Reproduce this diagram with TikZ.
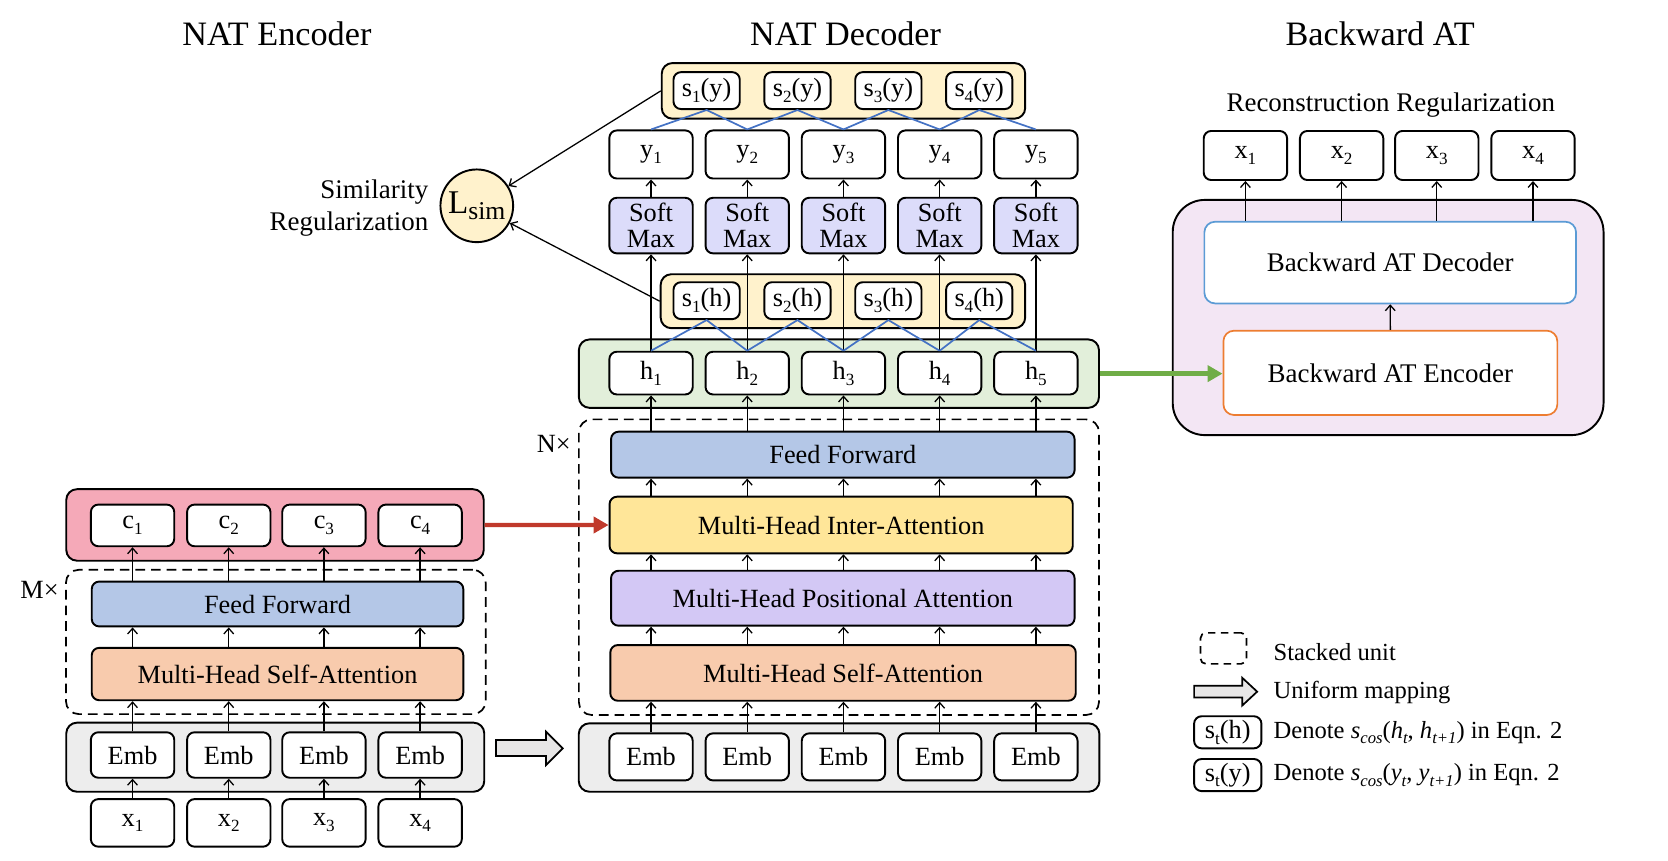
\documentclass[tikz,border=0pt]{standalone}
\usepackage{fontspec}
\setmainfont{Liberation Serif}
\usetikzlibrary{arrows.meta}
\definecolor{cRed}{HTML}{F5A9B8}
\definecolor{cGrey}{HTML}{EDEDED}
\definecolor{cFF}{HTML}{B4C7E7}
\definecolor{cSA}{HTML}{F8CBAD}
\definecolor{cIA}{HTML}{FFE699}
\definecolor{cPA}{HTML}{D3C8F5}
\definecolor{cGreen}{HTML}{E2EFDA}
\definecolor{cYel}{HTML}{FFF2CC}
\definecolor{cSM}{HTML}{DCDCFA}
\definecolor{cPurple}{HTML}{F3E6F4}
\definecolor{cBlueB}{HTML}{5B9BD5}
\definecolor{cOrangeB}{HTML}{ED7D31}
\definecolor{cRedA}{HTML}{C0392B}
\definecolor{cGreenA}{HTML}{70AD47}
\definecolor{cLine}{HTML}{4472C4}
\definecolor{cArrFill}{HTML}{E7E6E6}
\newcommand\sbs[1]{\raisebox{-0.22em}{\fontsize{8}{8}\selectfont #1}}
\newcommand\sbi[1]{\raisebox{-0.22em}{\fontsize{7.8}{7.8}\selectfont\itshape #1}}
\newcommand\mybox[7]{\node[#1, inner sep=0pt,
   minimum width={((#5)-(#3))*0.5pt}, minimum height={((#6)-(#4))*0.5pt}]
   (#2) at ({((#3)+(#5))/2},{((#4)+(#6))/2}) {#7};}
\newcommand\fnorm{\fontsize{12.3}{12}\selectfont}
\tikzset{
  bx/.style={draw, line width=0.9pt, rounded corners=3.5pt, fill=white, font=\fnorm},
  cont/.style={draw, line width=0.9pt, rounded corners=5pt},
  stk/.style={draw, dash pattern=on 4.5pt off 2.8pt, line width=0.8pt, rounded corners=6pt},
  arr/.style={line width=0.6pt, -{Straight Barb[length=2.6pt,width=4.6pt]}},
  simline/.style={draw=cLine, line width=0.8pt},
  bigarr/.style={line width=2pt, -{Triangle[length=7pt,width=7.5pt]}},
  ttl/.style={font=\fontsize{16}{16}\selectfont},
  lbl/.style={font=\fontsize{12.6}{15}\selectfont},
  leg/.style={font=\fontsize{11.5}{12}\selectfont, anchor=west, inner sep=0pt},
  hollow/.style={draw, line width=0.8pt, fill=cArrFill, line join=miter},
}
\begin{document}
\begin{tikzpicture}[x=0.5pt,y=-0.5pt]
\useasboundingbox (0,0) rectangle (1560.3,804.5);

% titles
\node[ttl] (tenc) at (259,32) {NAT Encoder};
\node[ttl] (tdec) at (791,32) {NAT Decoder};
\node[ttl] (tbat) at (1291,32) {Backward AT};

% ================= Encoder =================
\mybox{cont,fill=cRed}{ccont}{62}{457.6}{452.5}{524.5}{}
\mybox{stk}{mstack}{61.7}{533}{454.3}{668}{}
\mybox{cont,fill=cGrey}{eembc}{62}{676}{453}{740.6}{}
\mybox{bx,fill=cFF}{eff}{85.8}{544}{433.4}{586}{Feed Forward}
\mybox{bx,fill=cSA}{esa}{85.8}{606}{433.4}{655}{Multi-Head Self-Attention}
\node[font=\fnorm] (mx) at (37,552) {M×};
\foreach \x [count=\i] in {124,214,303,393}{
  \mybox{bx}{c\i}{\x-39}{472}{\x+39}{511}{c\sbs{\i}}
  \mybox{bx}{eemb\i}{\x-39}{685}{\x+39}{727.5}{Emb}
  \mybox{bx}{ex\i}{\x-39}{747.5}{\x+39}{792}{x\sbs{\i}}
  \draw[arr] (ex\i.north) -- (eemb\i.south);
  \draw[arr] (eemb\i.north) -- (esa.south -| eemb\i.north);
  \draw[arr] (esa.north -| eemb\i.north) -- (eff.south -| eemb\i.north);
  \draw[arr] (eff.north -| c\i.south) -- (c\i.south);
}

% uniform mapping arrow
\draw[hollow] (464,692.2) -- (510.8,692.2) -- (510.8,684.5) -- (526.4,700) -- (510.8,715.6) -- (510.8,707.2) -- (464,707.2) -- cycle;

% ================= Decoder =================
\mybox{cont,fill=cYel}{syc}{619}{59}{959}{111}{}
\mybox{cont,fill=cYel}{shc}{618}{256.5}{959}{307}{}
\mybox{cont,fill=cGreen}{hc}{541.5}{317.5}{1028}{381.5}{}
\mybox{stk}{nstack}{541.5}{392.3}{1028}{668.8}{}
\mybox{cont,fill=cGrey}{dembc}{541.4}{676.6}{1028.4}{740.6}{}
\mybox{bx,fill=cFF}{dff}{571.6}{403.8}{1005.2}{446.8}{Feed Forward}
\mybox{bx,fill=cIA}{dia}{570.2}{464.6}{1003.5}{517.6}{Multi-Head Inter-Attention}
\mybox{bx,fill=cPA}{dpa}{571.6}{533.9}{1005.2}{585.3}{Multi-Head Positional Attention}
\mybox{bx,fill=cSA}{dsa}{570.9}{603.4}{1006.3}{655.5}{Multi-Head Self-Attention}
\node[font=\fnorm] (nx) at (518,415) {N×};

\foreach \x [count=\i] in {661,746,831,916}{
  \mybox{bx}{sy\i}{\x-31}{67.5}{\x+31}{102}{s\sbs{\i}(y)}
  \mybox{bx}{sh\i}{\x-31}{264}{\x+31}{298.5}{s\sbs{\i}(h)}
}
\foreach \x [count=\i] in {609,699,789,879,969}{
  \mybox{bx}{y\i}{\x-39}{122}{\x+39}{167}{y\sbs{\i}}
  \mybox{bx,fill=cSM,align=center}{sm\i}{\x-39}{185}{\x+39}{237}{Soft\\Max}
  \mybox{bx}{h\i}{\x-39}{329}{\x+39}{369}{h\sbs{\i}}
  \mybox{bx}{demb\i}{\x-39}{686}{\x+39}{730}{Emb}
  \draw[arr] (demb\i.north) -- (dsa.south -| demb\i.north);
  \draw[arr] (dsa.north -| demb\i.north) -- (dpa.south -| demb\i.north);
  \draw[arr] (dpa.north -| demb\i.north) -- (dia.south -| demb\i.north);
  \draw[arr] (dia.north -| demb\i.north) -- (dff.south -| demb\i.north);
  \draw[arr] (dff.north -| h\i.south) -- (h\i.south);
  \draw[arr] (h\i.north) -- (sm\i.south);
  \draw[arr] (sm\i.north) -- (y\i.south);
}
\foreach \i [evaluate=\i as \j using int(\i+1)] in {1,2,3,4}{
  \draw[simline] (y\i.north) -- (sy\i.south) -- (y\j.north);
  \draw[simline] (h\i.north) -- (sh\i.south) -- (h\j.north);
}

% L_sim
\node[draw, circle, fill=cYel, line width=0.9pt, minimum size=34pt, inner sep=0pt] (lsim) at (446,192.5)
  {{\fontsize{15.5}{16}\selectfont L}\raisebox{-0.3em}{\fontsize{12}{12}\selectfont sim}};
\node[lbl, anchor=east, align=right, inner sep=0pt] (simtxt) at (401,194.5) {Similarity\\Regularization};
\draw[arr] (syc.west) -- (lsim);
\draw[arr] (shc.west) -- (lsim);

% big arrows
\draw[bigarr, draw=cRedA] (ccont.east) -- (dia.west);

% ================= Backward AT =================
\mybox{draw, line width=0.9pt, rounded corners=15pt, fill=cPurple}{batc}{1097}{187}{1500}{407}{}
\mybox{bx, draw=cBlueB, line width=0.8pt, rounded corners=5pt, font=\fontsize{12.6}{13}\selectfont}{batd}{1126.6}{207.4}{1474.3}{283.8}{Backward AT Decoder}
\mybox{bx, draw=cOrangeB, line width=0.8pt, rounded corners=5pt, font=\fontsize{12.6}{13}\selectfont}{bate}{1144.4}{309.3}{1456.8}{388.2}{Backward AT Encoder}
\draw[bigarr, draw=cGreenA] (hc.east) -- (hc.east -| bate.west);
\node[lbl] (recon) at (1301,98) {Reconstruction Regularization};
\foreach \x [count=\i] in {1165,1255,1344,1434}{
  \mybox{bx}{rx\i}{\x-39}{122.5}{\x+39}{168.4}{x\sbs{\i}}
  \draw[arr] (batd.north -| rx\i.south) -- (rx\i.south);
}
\draw[arr] (bate.north) -- (batd.south);

% ================= Legend =================
\mybox{draw, dash pattern=on 3.5pt off 2.5pt, line width=0.8pt, rounded corners=2.5pt}{legstk}{1123}{592}{1166}{621}{}
\node[leg] (legstkt) at (1191,609.6) {Stacked unit};
\draw[hollow] (1117,641.5) -- (1162,641.5) -- (1162,634) -- (1176,647) -- (1162,660) -- (1162,652.5) -- (1117,652.5) -- cycle;
\node[leg] (legarrt) at (1191,648) {Uniform mapping};
\mybox{bx}{legsh}{1117}{670}{1180}{700}{s\sbs{t}(h)}
\mybox{bx}{legsy}{1117}{710}{1180}{740}{s\sbs{t}(y)}
\node[leg] (legsht) at (1191,685) {Denote \textit{s}\sbi{cos}(\textit{h}\sbi{t}, \textit{h}\sbi{t+1}) in Eqn. 2};
\node[leg] (legsyt) at (1191,725) {Denote \textit{s}\sbi{cos}(\textit{y}\sbi{t}, \textit{y}\sbi{t+1}) in Eqn. 2};
\end{tikzpicture}
\end{document}
